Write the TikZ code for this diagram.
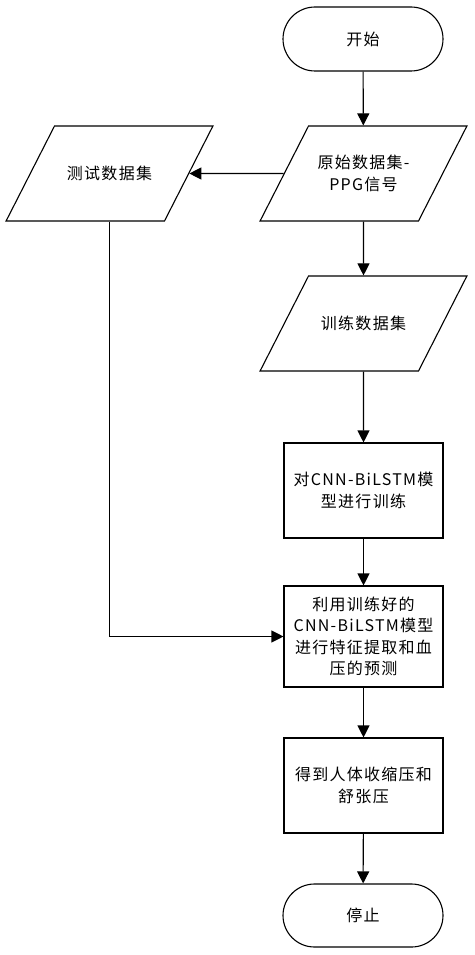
\documentclass[tikz,border=0pt]{standalone}
\usepackage{fontspec}
\setmainfont{Noto Sans CJK SC}[LetterSpace=8]
\usepackage{tikz}
\usetikzlibrary{shapes.geometric,shapes.misc,arrows.meta}
\newcommand{\iotext}[1]{\parbox[c][95pt][c]{110pt}{\centering #1}}

\begin{document}
\begin{tikzpicture}[x=1pt,y=-1pt,
  font=\fontsize{16pt}{21.5pt}\selectfont,
  every node/.style={draw,line width=1.1pt,align=center,inner sep=0pt},
  term/.style={rounded rectangle,minimum width=160pt,minimum height=64pt},
  io/.style={trapezium,trapezium left angle=63,trapezium right angle=117,
    trapezium stretches body},
  proc/.style={rectangle,minimum width=159pt,minimum height=95pt},
  flow/.style={line width=1.1pt,-{Triangle[length=12pt,width=12pt]}}]
\useasboundingbox (0,0) rectangle (474,955);
% nodes
\node[term] (start) at (363,39) {开始};
\node[io] (raw) at (363.5,173.5) {\iotext{原始数据集-\\PPG信号}};
\node[io] (test) at (109.5,173.5) {\iotext{测试数据集}};
\node[io] (train) at (363.5,323.5) {\iotext{训练数据集}};
\node[proc] (fit) at (363.5,490.5) {对CNN-BiLSTM模\\型进行训练};
\node[proc,minimum height=101pt] (predict) at (363.5,636.5) {利用训练好的\\CNN-BiLSTM模型\\进行特征提取和血\\压的预测};
\node[proc] (bp) at (363.5,785.5) {得到人体收缩压和\\舒张压};
\node[term,minimum height=63pt] (stop) at (363,915.5) {停止};
% connectors
\draw[flow] (start) -- (raw);
\draw[flow] (raw) -- (test);
\draw[flow] (raw) -- (train);
\draw[flow] (train) -- (fit);
\draw[flow] (fit) -- (predict);
\draw[flow] (test.south) |- (predict.west);
\draw[flow] (predict) -- (bp);
\draw[flow] (bp) -- (stop);
\end{tikzpicture}
\end{document}
